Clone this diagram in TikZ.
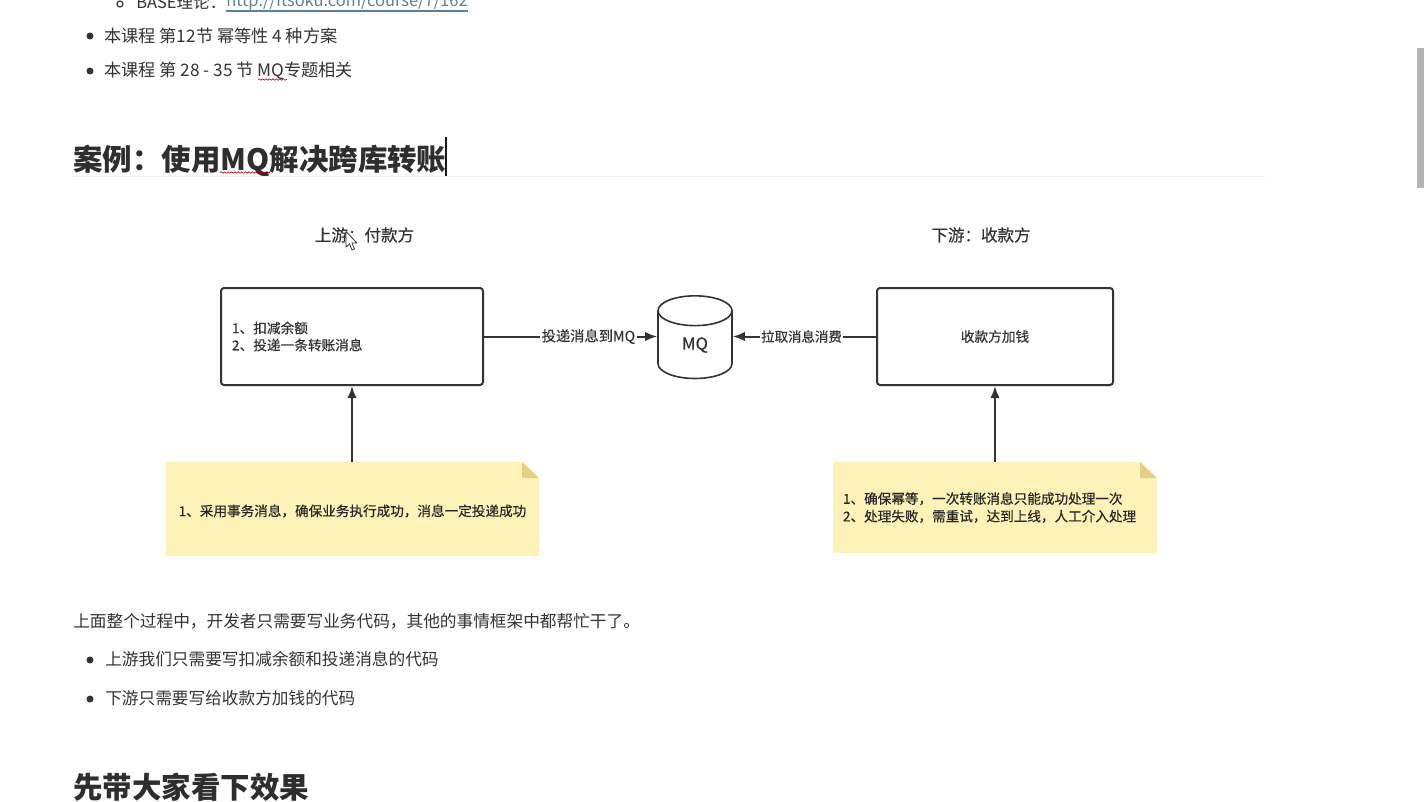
\documentclass[tikz,border=0pt]{standalone}
\usepackage{fontspec}
\setmainfont{Noto Sans CJK SC}
\newfontfamily\midfont{Noto Sans CJK SC}[FakeBold=0.35]
\usetikzlibrary{arrows.meta,shapes.geometric,decorations.pathmorphing}
\definecolor{ink}{HTML}{333333}
\definecolor{linkc}{HTML}{5F7F99}
\definecolor{notey}{HTML}{FDF3B8}
\definecolor{foldy}{HTML}{E6CF85}
\definecolor{barc}{HTML}{B4B4B4}
\tikzset{
  body/.style={anchor=west,inner sep=0pt,text=ink,font=\fontsize{12.5}{16}\selectfont},
  bodywide/.style={body,font=\fontsize{12.9}{16}\selectfont},
  headline/.style={anchor=west,inner sep=0pt,text=ink!90!black,font=\fontsize{22.1}{26}\selectfont\bfseries},
  coltitle/.style={inner sep=0pt,text=ink,font=\midfont\fontsize{12.4}{16}\selectfont},
  dot/.style={circle,fill=ink,inner sep=0pt,minimum size=5.25pt},
  hollowdot/.style={circle,draw=ink,line width=.9pt,fill=white,inner sep=0pt,minimum size=4.5pt},
  procbox/.style={draw=ink,line width=1.5pt,rounded corners=2.25pt,fill=white,inner sep=0pt,minimum height=72.75pt,
    font=\midfont\fontsize{10.25}{12.8}\selectfont,text=ink},
  notetext/.style={inner sep=0pt,font=\midfont\fontsize{10.2}{13.2}\selectfont,text=black!85},
  lab/.style={fill=white,inner xsep=1pt,inner ysep=1pt,font=\midfont\fontsize{10.7}{13}\selectfont,text=ink},
  conn/.style={draw=ink,line width=1.5pt,-{Latex[length=9pt,width=7pt]}},
  squig/.style={draw=red!75!black,line width=.45pt,decorate,decoration={snake,amplitude=.55pt,segment length=2.6pt}}
}
\begin{document}
\begin{tikzpicture}[x=.75pt,y=-.75pt]
\useasboundingbox (0,0) rectangle (1424,801);
\clip (0,0) rectangle (1424,801);
\fill[white] (0,0) rectangle (1424,801);
% page text
\node[hollowdot] (b0) at (120,4) {};
\node[body,font=\fontsize{12.35}{16}\selectfont] (t0) at (136,2) {BASE理论：};
\node[body,font=\fontsize{12.35}{16}\selectfont,text=linkc] (t0l) at (226,2) {http://itsoku.com/course/7/162};
\draw[linkc,line width=.8pt] (t0l.west |- 0,11) -- (t0l.east |- 0,11);
\node[dot] (b1) at (90,36) {};
\node[bodywide] (t1) at (104,36) {本课程 第12节 幂等性 4 种方案};
\node[dot] (b2) at (90,71) {};
\node[bodywide] (t2) at (104,71) {本课程 第 28 - 35 节 MQ专题相关};
\draw[squig] (258,79.5) -- (287,79.5);
\node[headline] (h1) at (73,161) {案例：使用MQ解决跨库转账};
\draw[squig] (220,172.5) -- (270,172.5);
\draw[black!90,line width=.9pt] (446,137) -- (446,177);
\draw[black!6,line width=.8pt] (73,176.5) -- (1265,176.5);
\fill[barc] (1417,48) rectangle (1424,188);
% column titles
\node[coltitle] (c1) at (364.5,235) {上游：付款方};
\node[coltitle] (c2) at (981,235) {下游：收款方};
% boxes
\node[procbox,minimum width=196.5pt,text width=180pt,align=left] (r1) at (352,336.5) {\raisebox{-.7pt}{\parbox{180pt}{1、扣减余额\\2、投递一条转账消息}}};
\node[procbox,minimum width=177pt,align=center] (r2) at (995,336.5) {\raisebox{-.7pt}{收款方加钱}};
\node[cylinder,draw=ink,line width=1.2pt,fill=white,shape border rotate=90,aspect=1.15,minimum width=55.5pt,minimum height=62pt,inner sep=0pt,
  font=\midfont\fontsize{12.5}{13}\selectfont,text=ink] (mq) at (695,345) {\raisebox{-1pt}{MQ}};
% notes
\fill[notey] (166,462) -- (522,462) -- (539,478) -- (539,556) -- (166,556) -- cycle;
\fill[foldy] (522,462) -- (522,478) -- (539,478) -- cycle;
\fill[notey] (833,462) -- (1140,462) -- (1157,478) -- (1157,553) -- (833,553) -- cycle;
\fill[foldy] (1140,462) -- (1140,478) -- (1157,478) -- cycle;
\node[notetext,minimum width=279.75pt,minimum height=70.5pt] (n1) at (352.5,511) {1、采用事务消息，确保业务执行成功，消息一定投递成功};
\node[notetext,minimum height=68.25pt,text width=243pt,align=left] (n2) at (1005,507.5) {1、确保幂等，一次转账消息只能成功处理一次\\2、处理失败，需重试，达到上线，人工介入处理};
\coordinate (n1top) at (352,462);
\coordinate (n2top) at (995,462);
% connectors
\draw[conn] (r1.east) -- node[lab,pos=.603] (l1) {\raisebox{-.7pt}{投递消息到MQ}} (mq.west |- r1.east);
\draw[conn] (r2.west) -- node[lab,pos=.52,font=\midfont\fontsize{10.1}{13}\selectfont] (l2) {\raisebox{-.7pt}{拉取消息消费}} (mq.east |- r2.west);
\draw[conn] (n1top) -- (r1.south);
\draw[conn] (n2top) -- (r2.south);
% pointer
\draw[fill=white,draw=black!80,line width=.6pt,line join=round]
  (346,231.5) -- (346,247) -- (349.5,244) -- (352,250) -- (354.5,249) -- (352,243) -- (357,243) -- cycle;
% lower text
\node[body] (p1) at (73,621) {上面整个过程中，开发者只需要写业务代码，其他的事情框架中都帮忙干了。};
\node[dot] (b3) at (90,660) {};
\node[body] (t3) at (105,659) {上游我们只需要写扣减余额和投递消息的代码};
\node[dot] (b4) at (90,699) {};
\node[body] (t4) at (105,698) {下游只需要写给收款方加钱的代码};
\node[headline] (h2) at (73,787) {先带大家看下效果};
\end{tikzpicture}
\end{document}
